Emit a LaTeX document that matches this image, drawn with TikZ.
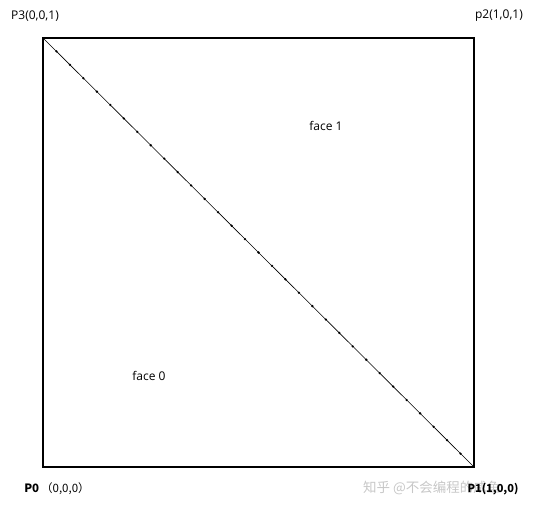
\documentclass[tikz,border=0pt]{standalone}
\usepackage{fontspec}
\setmainfont{Open Sans}
\newfontfamily\cjk{Noto Sans CJK SC}
\usepackage{tikz}
\usetikzlibrary{calc}

\begin{document}
\begin{tikzpicture}[x=1pt,y=1pt,
  lbl/.style={font=\fontsize{12}{14}\selectfont, inner sep=0pt},
  wmark/.style={font=\cjk\fontsize{13.5}{15}\selectfont, text=black!22, inner sep=0pt}]

\useasboundingbox (0,0) rectangle (536,508);

% corners of the square
\coordinate (P0) at (43,41);
\coordinate (P1) at (474,41);
\coordinate (P2) at (474,470);
\coordinate (P3) at (43,470);

% edges
\draw[line width=1.4pt] (P0) -- (P1) -- (P2) -- (P3) -- cycle;
\draw[line width=0.6pt] (P3) -- (P1);

% small marks on the diagonal
\foreach \k in {1,...,31}
  \fill ($(P3)!\k/32!(P1)$) circle (1.3pt);

% labels
\node[lbl] (l3) at (35,492) {P3(0,0,1)};
\node[lbl] (l2) at (499,492) {p2(1,0,1)};
\node[font=\cjk\fontsize{11.5}{13}\selectfont, inner sep=0pt] (l0) at (57,19) {\textbf{P0}\,（0,0,0）};
\node[lbl] (f1) at (326,382) {face 1};
\node[lbl] (f0) at (149,132) {face 0};

% watermark and last corner label
\node[wmark, anchor=west] (wm) at (363,20) {知乎 @不会编程的咸鱼};
\node[font=\cjk\fontsize{11}{12}\selectfont\bfseries, inner sep=0pt] (l1) at (493,19) {P1(1,0,0)};

\end{tikzpicture}
\end{document}
